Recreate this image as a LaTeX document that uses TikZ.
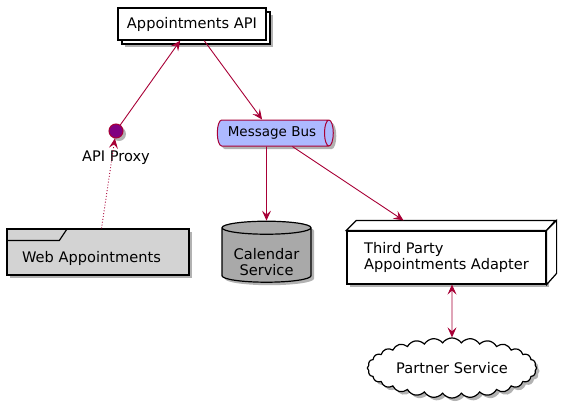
\documentclass[tikz,border=0pt]{standalone}
\usepackage{fontspec}
\setmainfont{DejaVu Sans}
\usetikzlibrary{arrows.meta,shapes,shadows,calc,positioning}
\definecolor{umlred}{HTML}{A80036}
\definecolor{umlpurple}{HTML}{800080}
\definecolor{busblue}{HTML}{ADB9FF}
\definecolor{framegray}{HTML}{D3D3D3}
\definecolor{dbgray}{HTML}{A9A9A9}
\tikzset{
	every node/.style={
		font=\fontsize{14.6}{16.5}\selectfont
	},
	umlshadow/.style={
		drop shadow={shadow xshift=3pt,shadow yshift=-3pt,opacity=0.3,fill=black}
	},
	component/.style={
		shape=rectangle,
		draw,
		fill=white,
		line width=1.2pt,
		minimum width=148pt,
		minimum height=32pt,
		drop shadow={shadow xshift=7pt,shadow yshift=-7pt,opacity=0.3,fill=black},
		copy shadow={shadow xshift=4pt,shadow yshift=-4pt,draw,fill=white}
	},
	interface/.style={
		shape=circle,
		draw=umlred,
		fill=umlpurple,
		line width=1pt,
		minimum size=14pt,
		inner sep=0pt,
		umlshadow
	},
	framebox/.style={
		shape=rectangle,
		draw,
		fill=framegray,
		line width=1.2pt,
		minimum width=182pt,
		minimum height=46pt,
		text width=152pt,
		inner xsep=15pt,
		text height=20pt,
		text depth=0pt,
		align=left,
		umlshadow
	},
	queue/.style={
		shape=cylinder,
		draw=umlred,
		fill=busblue,
		line width=1pt,
		aspect=0.6,
		minimum height=116pt,
		minimum width=26pt,
		inner sep=1pt,
		font=\fontsize{13.5}{15}\selectfont,
		umlshadow
	},
	database/.style={
		shape=cylinder,
		shape border rotate=90,
		draw,
		fill=dbgray,
		line width=1.2pt,
		aspect=0.18,
		minimum width=89pt,
		minimum height=61pt,
		inner ysep=0pt,
		align=center,
		umlshadow
	},
	node3d/.style={
		shape=rectangle,
		draw,
		fill=white,
		line width=1.2pt,
		minimum width=199pt,
		minimum height=53pt,
		align=left,
		umlshadow
	},
	cloudy/.style={
		shape=cloud,
		cloud puffs=28,
		cloud puff arc=110,
		aspect=3.3,
		draw,
		fill=white,
		line width=1.2pt,
		minimum width=132pt,
		minimum height=37pt,
		umlshadow
	},
	arr/.style={
		draw=umlred,
		line width=0.9pt,
		-{Stealth[length=10pt,width=9pt,inset=4pt]}
	}
}

\begin{document}
\begin{tikzpicture}[x=1pt,y=-1pt]
	\useasboundingbox (0,0) rectangle (571,402);

	\node[component] (api) at (192,24) {Appointments API};
	\node[interface, label={[label distance=9pt]below:API Proxy}] (proxy) at (116,131) {};
	\node[framebox] (web) at (98,252) {Web Appointments};
	\draw[line width=1.2pt] (web.north west) ++(0,12) -- ++(53,0) -- ++(8,-12);
	\node[queue] (bus) at (272,133) {Message Bus};
	% text sits below the top end
	\node[database, label={[align=center, yshift=-5.5pt]center:Calendar\\Service}] (cal) at (266.5,256.5) {\phantom{Calendar}};

	% node with depth
	\node[node3d] (adapter) at (446.5,257.5) {Third Party\\Appointments Adapter};
	\draw[line width=1.2pt, fill=white] (adapter.north west) -- ++(10,-10) -- ++(199,0) -- (adapter.north east) -- cycle;
	\draw[line width=1.2pt, fill=white] (adapter.north east) -- ++(10,-10) -- ++(0,53) -- (adapter.south east) -- cycle;

	\node[cloudy] (partner) at (452,368) {Partner Service};

	\path (proxy) edge[arr] (api);
	\path (web) edge[arr, dotted] (proxy);
	\path (api) edge[arr] (bus);
	\path (bus.south -| cal.center) edge[arr] (cal);
	\path (bus) edge[arr] ([xshift=-43pt,yshift=10pt]adapter.north);
	\path (adapter.south -| partner.center) edge[arr, {Stealth[length=10pt,width=9pt,inset=4pt]}-{Stealth[length=10pt,width=9pt,inset=4pt]}] (partner);
\end{tikzpicture}
\end{document}
